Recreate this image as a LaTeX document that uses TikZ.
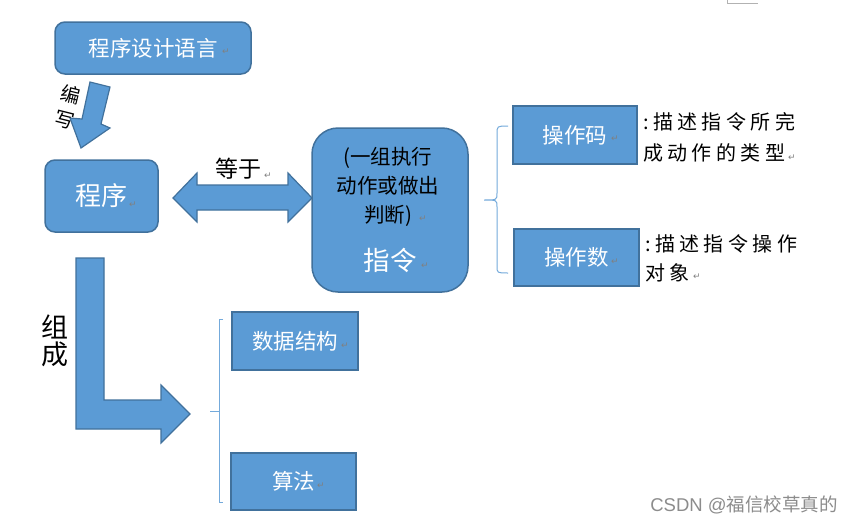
\documentclass[tikz,border=0pt]{standalone}
\usepackage{fontspec}
\setmainfont{Noto Sans CJK SC}
\newfontfamily\cjk{Noto Sans CJK SC}
\newfontfamily\cjksp[LetterSpace=22]{Noto Sans CJK SC}
\newfontfamily\dejavu{DejaVu Sans}
\newfontfamily\libsans{Liberation Sans}
\definecolor{boxfill}{HTML}{5B9BD5}
\definecolor{boxline}{HTML}{41719C}
\newcommand{\fs}[1]{\fontsize{#1}{#1}\selectfont}
\begin{document}
\begin{tikzpicture}[x=1pt,y=-1pt,
  rbox/.style={draw=boxline, line width=1.5pt, fill=boxfill, rounded corners=10pt, text=white, inner sep=0pt},
  sbox/.style={draw=boxline, line width=2pt, fill=boxfill, text=white, inner sep=0pt},
  blockarrow/.style={draw=boxline, line width=1.2pt, fill=boxfill, line join=miter},
  pm/.style={text=gray, font=\dejavu\fs{9}, inner sep=0pt},
  bracket/.style={draw=boxfill!85!white, line width=1pt},
  blk/.style={text=black, inner sep=0pt},
]
\useasboundingbox (0,0) rectangle (855,525);
\fill[white] (0,0) rectangle (855,525);

% top box
\node[rbox, minimum width=196pt, minimum height=52pt, font=\cjk\fs{21.5}] (lang) at (153,48) {程序设计语言};
\node[pm] (pm1) at (226,52) {↵};

% 编写 arrow
\draw[blockarrow] (90,82) -- (110,87) -- (101,124) -- (110,128) -- (81,148) -- (70,118) -- (82,119) -- cycle;
\node[blk, font=\cjk\fs{19.5}, rotate=-14] (write1) at (71,95) {编};
\node[blk, font=\cjk\fs{19.5}, rotate=-14] (write2) at (65,120) {写};

% 程序 box
\node[rbox, minimum width=113pt, minimum height=72pt, font=\cjk\fs{26}] (prog) at (101.5,196) {程序};
\node[pm] (pm2) at (133,205) {↵};

% double arrow
\draw[blockarrow] (173,198) -- (197,173) -- (197,185) -- (288,185) -- (288,173) -- (312,198)
  -- (288,222) -- (288,210) -- (197,210) -- (197,222) -- cycle;
\node[blk, font=\cjk\fs{23}] (eq) at (238,169) {等于};
\node[pm] (pm3) at (268,176) {↵};

% 指令 box
\node[rbox, rounded corners=26pt, minimum width=156pt, minimum height=164pt] (instr) at (390,210) {};
\node[blk, font=\cjk\fs{20.5}, align=center, execute at begin node={\baselineskip=29pt}] (instrtxt) at (388,187) {(一组执行\\动作或做出\\判断)};
\node[pm] (pm4) at (423,219) {↵};
\node[text=white, inner sep=0pt, font=\cjk\fs{26.5}] (instrname) at (390,260) {指令};
\node[pm] (pm5) at (425,266) {↵};

% right bracket
\draw[bracket] (508,126) .. controls (497,126) .. (497,134) -- (497,193) .. controls (497,200) .. (484,200)
  .. controls (497,200) .. (497,207) -- (497,266) .. controls (497,273) .. (508,273);

% 操作码 / 操作数
\node[sbox, minimum width=124pt, minimum height=58pt, font=\cjk\fs{21.5}] (opcode) at (575,135) {操作码};
\node[pm] (pm6) at (615,139) {↵};
\node[sbox, minimum width=125pt, minimum height=57pt, font=\cjk\fs{21.5}] (operand) at (576.5,257.5) {操作数};
\node[pm] (pm7) at (615,262) {↵};

\node[blk, anchor=north west, align=left, font=\cjksp\fs{20}, execute at begin node={\baselineskip=31pt}] (desc1) at (643,112) {:描述指令所完\\成动作的类型};
\node[pm] (pm8) at (792,158) {↵};
\node[blk, anchor=north west, align=left, font=\cjksp\fs{20}, execute at begin node={\baselineskip=29pt}] (desc2) at (645,234) {:描述指令操作\\对象};
\node[pm] (pm9) at (697,277) {↵};

% L arrow
\draw[blockarrow] (76,258) -- (104,258) -- (104,400) -- (161,400) -- (161,385) -- (190,414)
  -- (161,443) -- (161,429) -- (76,429) -- cycle;
\node[blk, font=\cjk\fs{27}, align=center, execute at begin node={\baselineskip=27pt}] (compose) at (55,341) {组\\成};

% lower bracket
\draw[bracket] (223,319) -- (219,319) -- (219,502) -- (223,502);
\draw[bracket] (210,411) -- (219,411);

% 数据结构 / 算法
\node[sbox, minimum width=126pt, minimum height=58pt, font=\cjk\fs{21.5}] (ds) at (295,341) {数据结构};
\node[pm] (pm10) at (345,346) {↵};
\node[sbox, minimum width=125pt, minimum height=57pt, font=\cjk\fs{21.5}] (algo) at (293.5,481.5) {算法};
\node[pm] (pm11) at (321,486) {↵};

% watermark
\node[text=black!45, inner sep=0pt, font=\fs{18.5}] (wm) at (744,505) {{\libsans CSDN @}{\cjk 福信校草真的}};

% tiny mark top
\draw[black!30, line width=0.8pt] (727,0) -- (727,3) -- (758,3);
\end{tikzpicture}
\end{document}
